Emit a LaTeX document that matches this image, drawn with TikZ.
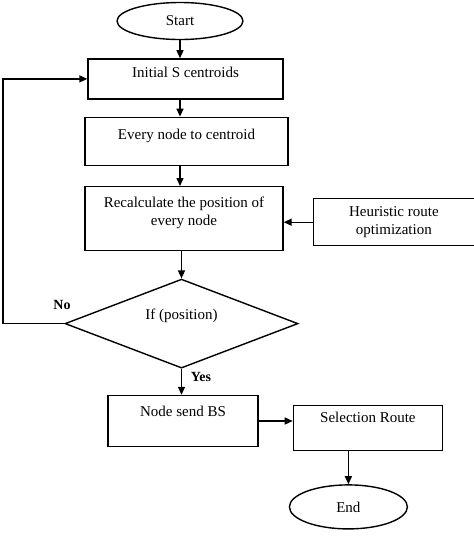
\documentclass[tikz,border=0pt]{standalone}
\usepackage{fontspec}
\setmainfont{Liberation Serif}
\usetikzlibrary{positioning}
\usetikzlibrary{arrows.meta}
\usetikzlibrary{shapes.geometric}

\begin{document}
\begin{tikzpicture}[x=1pt, y=1pt,
    box/.style={rectangle, draw=black, line width=1.4pt, align=center, font=\fontsize{15}{18}\selectfont},
    term/.style={ellipse, draw=black, line width=1.4pt, inner sep=0pt, font=\fontsize{15}{18}\selectfont},
    flow/.style={-{Triangle[length=8pt, width=7pt]}, line width=1.4pt},
    answer/.style={font=\bfseries\fontsize{14}{16}\selectfont}]
    \useasboundingbox (0,0) rectangle (474,-547);

    \node (start) [term, minimum width=126pt, minimum height=37pt] at (180,-21) {Start};
    \node (init) [box, minimum width=195pt, minimum height=40pt, text height=11pt, text depth=13pt, below=18pt of start, xshift=5.5pt] {Initial S centroids};
    \node (every) [box, minimum width=203pt, minimum height=48pt, text height=11pt, text depth=15pt, below=17pt of init, xshift=1pt] {Every node to centroid};
    \node (recalc) [box, minimum width=198pt, minimum height=64pt, text depth=15pt, below=20pt of every, xshift=-2.5pt] {Recalculate the position of\\every node};
    \node (heur) [box, minimum width=161pt, minimum height=47pt, right=29pt of recalc, yshift=-3.5pt] {Heuristic route\\optimization};

    \node (test) [diamond, draw=black, line width=1.4pt, inner sep=0pt, aspect=2.6, minimum width=233pt, minimum height=89pt, text height=11pt, text depth=19pt, font=\fontsize{15}{18}\selectfont, below=27pt of recalc, xshift=-2.5pt] {If (position)};
    \node (no) [answer] at (62,-305) {No};
    \node (yes) [answer] at (201,-377) {Yes};

    \node (send) [box, minimum width=150pt, minimum height=51pt, text height=11pt, text depth=21pt, below=26pt of test, xshift=1.5pt] {Node send BS};
    \node (select) [box, minimum width=149pt, minimum height=45pt, text height=11pt, text depth=22pt, right=34pt of send, yshift=-7pt] {Selection Route};
    \node (end) [term, minimum width=118pt, minimum height=44pt, below=33pt of select, xshift=-19.5pt] {End};

    \coordinate (back) at (3,0);

    \draw [flow] (start.south) -- (start.south |- init.north);
    \draw [flow] (start.south |- init.south) -- (start.south |- every.north);
    \draw [flow] (start.south |- every.south) -- (start.south |- recalc.north);
    \draw [flow] (heur.west) -- (heur.west -| recalc.east);
    \draw [flow] (test.north |- recalc.south) -- (test.north);
    \draw [flow] (test.west) -- (test.west -| back) |- (init.west);
    \draw [flow] (test.south) -- (test.south |- send.north);
    \draw [flow] (send.east) -- (send.east -| select.west);
    \draw [flow] (end.north |- select.south) -- (end.north);
\end{tikzpicture}
\end{document}
